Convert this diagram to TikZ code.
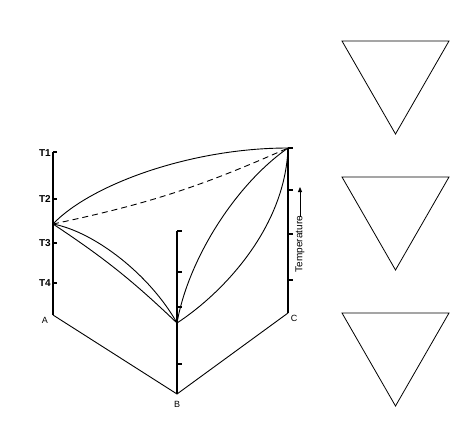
\documentclass[tikz,border=0pt]{standalone}
\usepackage{fontspec}
\setmainfont{Liberation Sans}
\usepackage{tikz}
\usetikzlibrary{arrows.meta}

\tikzset{
  axisline/.style={line width=1.6pt},
  curveline/.style={line width=0.9pt},
  triline/.style={line width=0.8pt, line join=miter},
  templabel/.style={font=\bfseries\fontsize{10}{12}\selectfont, anchor=east, inner sep=1pt},
  cornerlabel/.style={font=\fontsize{9}{11}\selectfont, inner sep=0pt}
}

\begin{document}
\begin{tikzpicture}[x=1pt, y=-1pt]
\useasboundingbox (0,0) rectangle (474,440);

% corners of the prism
\coordinate (A) at (53,315);
\coordinate (B) at (177,394);
\coordinate (C) at (288,313);
\coordinate (Atop) at (53,152);
\coordinate (Btop) at (177,231);
\coordinate (Ctop) at (288,148);
\coordinate (Amelt) at (53,224);
\coordinate (eut) at (177,323);

% vertical axes
\draw[axisline] (Atop) -- (A);
\draw[axisline] (Btop) -- (B);
\draw[axisline] (Ctop) -- (C);

% ticks
\foreach \y in {152,199,243,283} \draw[axisline] (53,\y) -- ++(4,0);
\foreach \y in {231,272,307,364} \draw[axisline] (177,\y) -- ++(5,0);
\foreach \y in {148,190,234,280} \draw[axisline] (288,\y) -- ++(5,0);

% base
\draw[curveline] (A) -- (B) -- (C);

% liquidus and solidus curves
\draw[curveline] (Amelt) .. controls (90,185) and (190,148) .. (Ctop);
\draw[curveline, dashed, dash pattern=on 6pt off 4pt] (Amelt) to[bend right=6] (Ctop);
\draw[curveline] (Amelt) .. controls (95,232) and (150,275) .. (eut);
\draw[curveline] (Amelt) to[bend left=5] (eut);
\draw[curveline] (eut) .. controls (188,260) and (235,185) .. (Ctop);
\draw[curveline] (eut) .. controls (220,295) and (285,230) .. (Ctop);

% labels
\node[templabel] (t1) at (52,153) {T1};
\node[templabel] (t2) at (52,199) {T2};
\node[templabel] (t3) at (52,243) {T3};
\node[templabel] (t4) at (52,283) {T4};
\node[cornerlabel] (labA) at (45,320) {A};
\node[cornerlabel] (labB) at (177,404) {B};
\node[cornerlabel] (labC) at (294,318) {C};

\node[rotate=90, font=\fontsize{10}{12}\selectfont, inner sep=1pt] (temp) at (300,244) {Temperature};
\coordinate (temptip) at (300,187);
\draw[line width=0.8pt, -{Triangle[length=5pt, width=4pt]}] ([yshift=-2]temp.east) -- (temptip);

% empty triangles
\foreach \top in {41,177,313}
  \draw[triline] (342,\top) -- (449,\top) -- (395.5,\top+93) -- cycle;
\end{tikzpicture}
\end{document}
